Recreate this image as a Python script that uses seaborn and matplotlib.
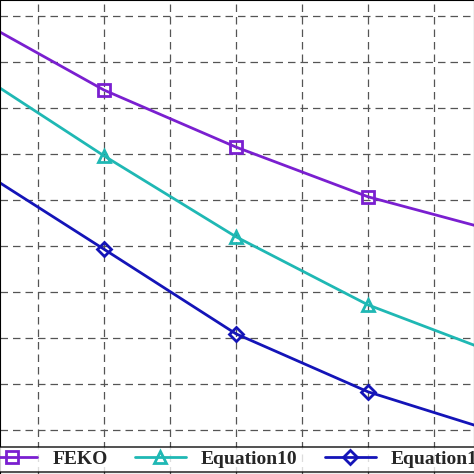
import matplotlib
matplotlib.use("Agg")
import matplotlib.pyplot as plt
import seaborn as sns
import pandas as pd

x = [-1, 1, 3, 5, 7]
feko = [9.99, 8.39, 7.15, 6.07, 5.30]
eq10 = [8.83, 6.96, 5.20, 3.72, 2.63]
eq17 = [6.76, 4.93, 3.09, 1.83, 0.93]
names = ["FEKO", "Equation10", "Equation17"]
colors = ["#7a1fd0", "#1fb8b4", "#1414b8"]
markers = ["s", "^", "D"]

sns.set_style("white")
fig = plt.figure(figsize=(4.74, 4.74), dpi=100)
ax = fig.add_axes([0, 0, 1, 1])
for ys, n, c, m in zip([feko, eq10, eq17], names, colors, markers):
    df = pd.DataFrame({"x": x, "y": ys})
    sns.lineplot(data=df, x="x", y="y", ax=ax, color=c, lw=2, marker=m,
                 markersize=9 if m != "D" else 7, markerfacecolor="none",
                 markeredgecolor=c, markeredgewidth=2, label=n)
ax.set_xlim(-0.576, 6.606)
ax.set_ylim(0.043, 10.348)
ax.set_xticks(range(0, 7))
ax.set_yticks(range(1, 11))
ax.grid(True, ls=(0, (6, 4)), color="#555555", lw=0.9)
ax.tick_params(labelleft=False, labelbottom=False, length=0)
for s in ax.spines.values():
    s.set_color("black")
ax.set_xlabel(""); ax.set_ylabel("")
leg = ax.legend(loc="lower center", bbox_to_anchor=(0.5, 0.0), ncol=3,
                prop={"family": "Liberation Serif", "weight": "bold", "size": 14},
                frameon=True, fancybox=False, edgecolor="black",
                handlelength=2.6, columnspacing=1.4, borderpad=0.2,
                borderaxespad=0.1)
leg.get_frame().set_linewidth(1.2)
fig.savefig("out.png", dpi=100)
